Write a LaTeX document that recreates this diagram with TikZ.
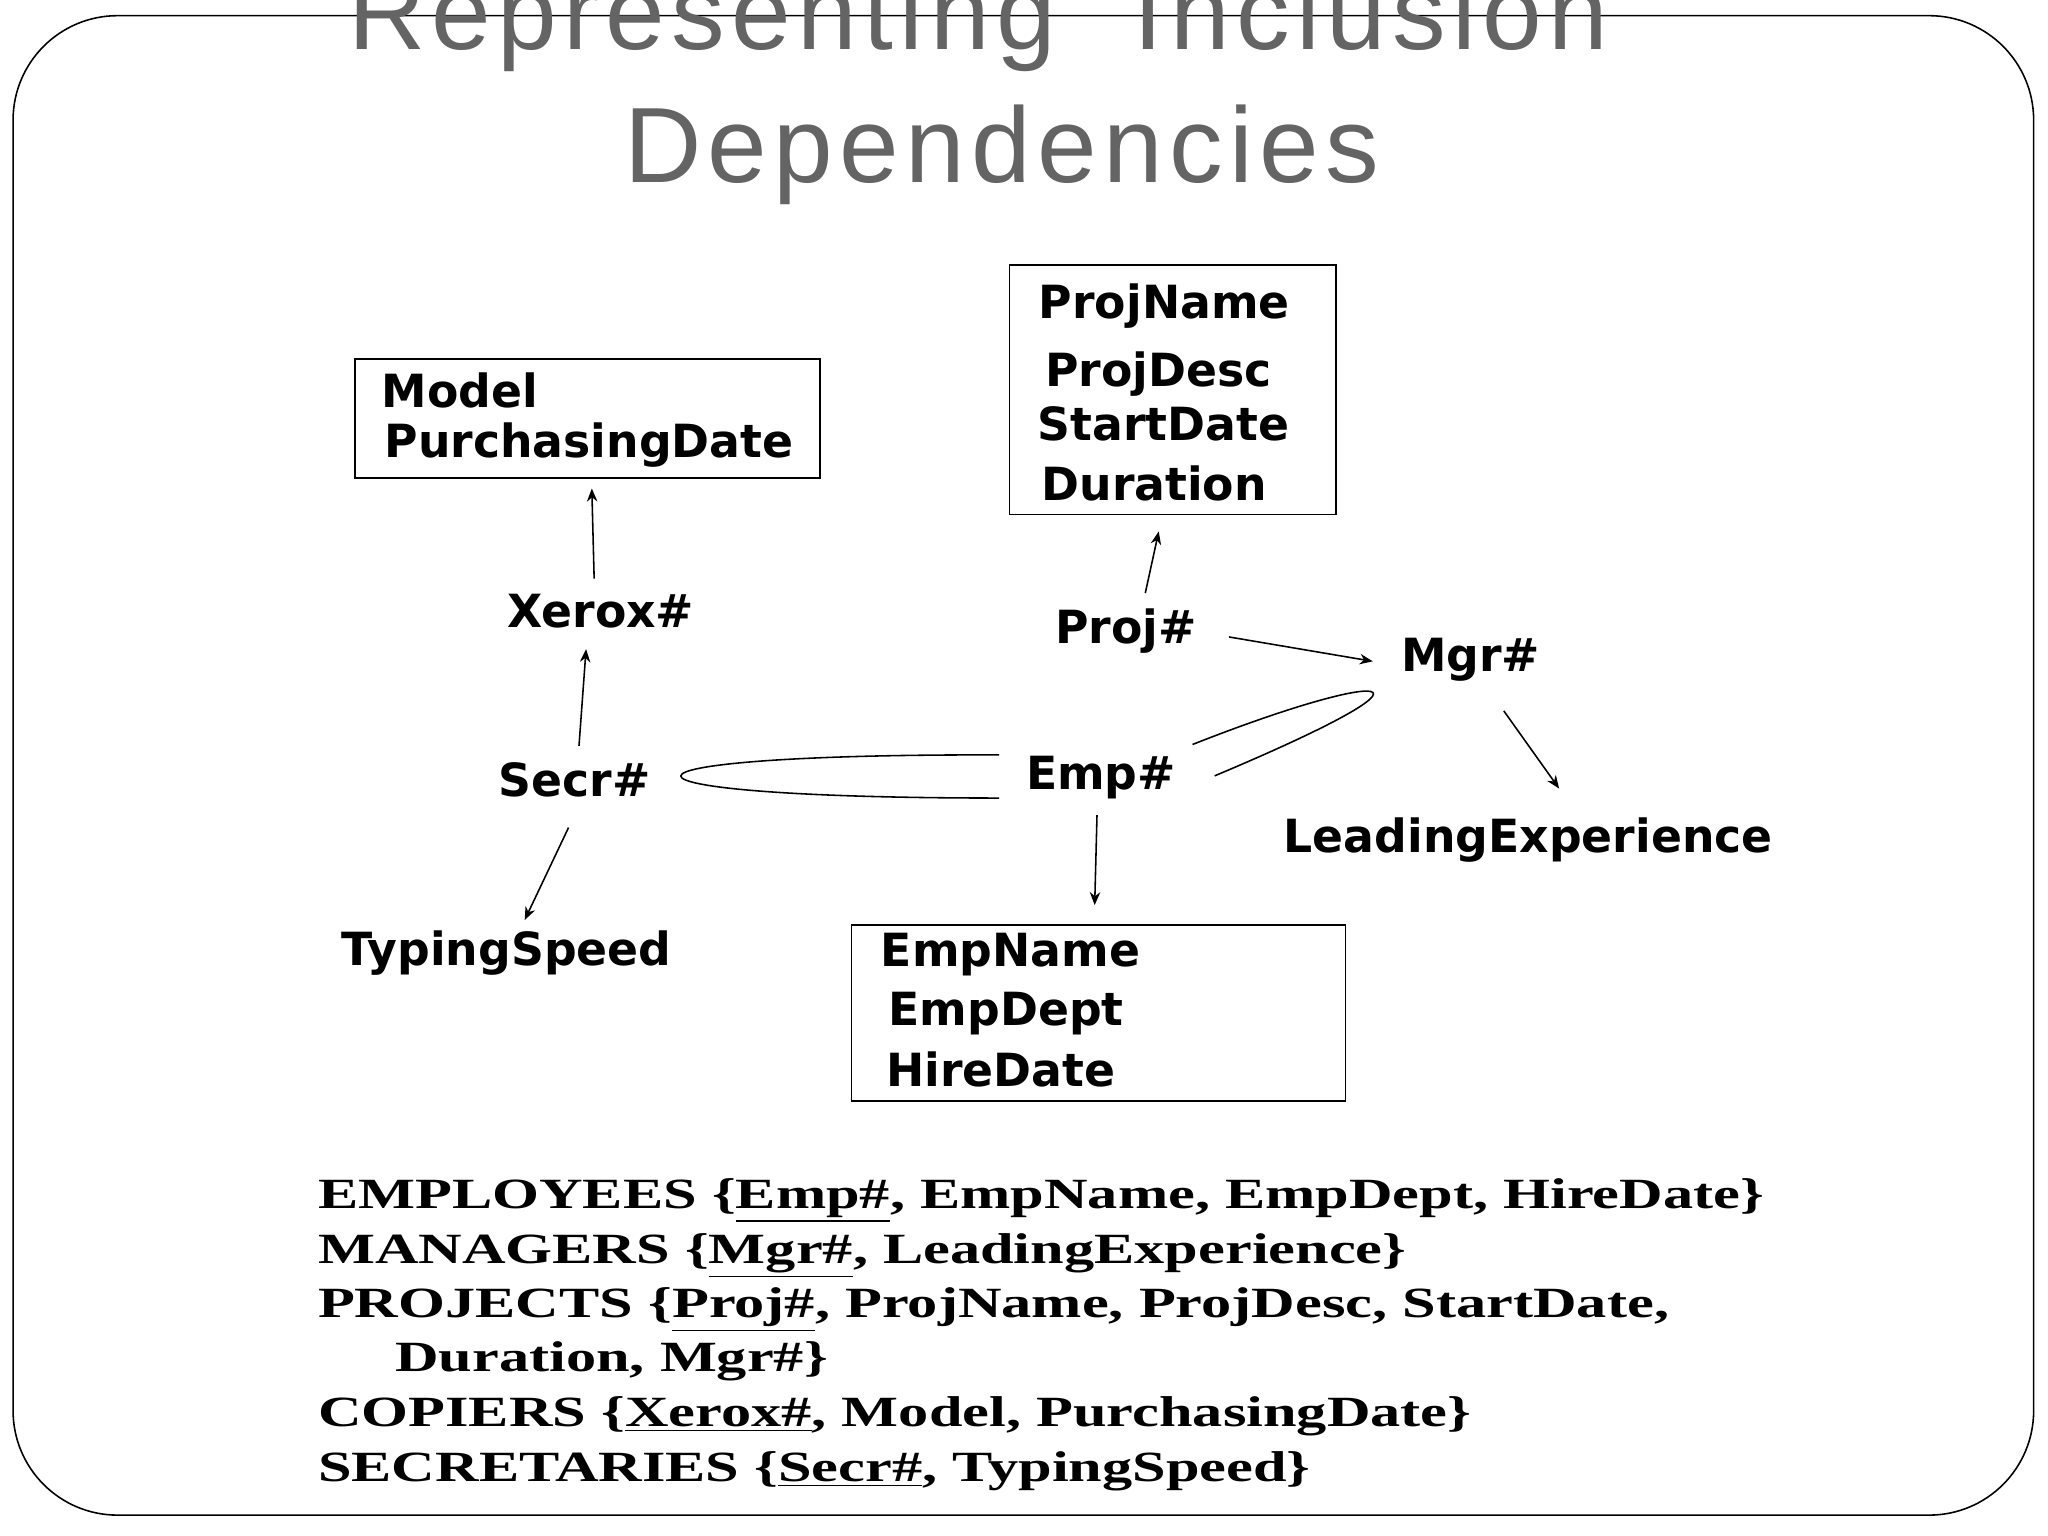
\documentclass[tikz,border=0pt]{standalone}
\usepackage{fontspec}
\setmainfont{Liberation Serif}
\newfontfamily\lab{DejaVu Sans}
\newfontfamily\ttl[LetterSpace=6]{Liberation Sans}
\usetikzlibrary{arrows.meta}
\definecolor{tgray}{RGB}{100,100,100}
\begin{document}
\begin{tikzpicture}[x=0.5pt,y=-0.5pt,
  lbl/.style={font=\lab\bfseries\fontsize{17.5}{20}\selectfont,inner sep=1pt},
  box/.style={draw,line width=0.6pt},
  arr/.style={-{Stealth[length=5pt,width=4pt]},line width=0.6pt,shorten >=2pt,shorten <=2pt},
  rel/.style={anchor=base west,font=\bfseries\fontsize{16.5}{20}\selectfont,inner sep=0pt,xscale=1.4,transform shape}]
\useasboundingbox (0,0) rectangle (1568,1176);
\begin{scope}
\clip (0,0) rectangle (1568,1176);
\draw[line width=0.6pt,rounded corners=40pt] (10,12) rectangle (1557,1160);
\node[font=\ttl\fontsize{41}{45}\selectfont,text=tgray,anchor=base] (t1) at (765,38) {Representing “Inclusion”};
\node[font=\ttl\fontsize{41}{45}\selectfont,text=tgray,anchor=base] (t2) at (767,140) {Dependencies};
\end{scope}
% boxes
\draw[box] (272,275) rectangle (628,366);
\node[lbl,anchor=base west] (m1) at (290,312) {Model};
\node[lbl,anchor=base west] (m2) at (292,350) {PurchasingDate};
\draw[box] (773,203) rectangle (1023,394);
\node[lbl,anchor=base west] (p1) at (793,244) {ProjName};
\node[lbl,anchor=base west] (p2) at (798,296) {ProjDesc};
\node[lbl,anchor=base west] (p3) at (792,337) {StartDate};
\node[lbl,anchor=base west] (p4) at (795,383) {Duration};
\draw[box] (652,708) rectangle (1030,843);
\node[lbl,anchor=base west] (e1) at (672,740) {EmpName};
\node[lbl,anchor=base west] (e2) at (678,785) {EmpDept};
\node[lbl,anchor=base west] (e3) at (676,832) {HireDate};
% labels
\node[lbl] (xer) at (460,468) {Xerox\#};
\node[lbl] (sec) at (440,597) {Secr\#};
\node[lbl] (typ) at (388,730) {TypingSpeed};
\node[lbl] (emp) at (843,595) {Emp\#};
\node[lbl] (prj) at (862,483) {Proj\#};
\node[lbl] (mgr) at (1126,505) {Mgr\#};
\node[lbl] (led) at (1170,643) {LeadingExperience};
\coordinate (mb) at (453,370);
\coordinate (pb) at (888,403);
\coordinate (eb) at (838,697);
\draw[arr] (455,447) -- (mb);
\draw[arr] (443,575) -- (449,493);
\draw[arr] (437,630) -- (400,708);
\draw[arr] (876,458) -- (pb);
\draw[arr] (937,487) -- (1055,507);
\draw[arr] (1149,541) -- (1196,607);
\draw[arr] (840,620) -- (eb);
% loops
\draw[line width=0.6pt] (765,578) .. controls (440,577) and (440,611) .. (765,611);
\draw[line width=0.6pt] (913,570) .. controls (1060,512) and (1125,512) .. (930,594);
% relations
\node[rel] (r1) at (243,925) {EMPLOYEES \{\underline{Emp\#}, EmpName, EmpDept, HireDate\}};
\node[rel] (r2) at (243,967) {MANAGERS \{\underline{Mgr\#}, LeadingExperience\}};
\node[rel] (r3) at (243,1009) {PROJECTS \{\underline{Proj\#}, ProjName, ProjDesc, StartDate,};
\node[rel] (r4) at (302,1050) {Duration, Mgr\#\}};
\node[rel] (r5) at (243,1092) {COPIERS \{\underline{Xerox\#}, Model, PurchasingDate\}};
\node[rel] (r6) at (243,1134) {SECRETARIES \{\underline{Secr\#}, TypingSpeed\}};
\end{tikzpicture}
\end{document}
